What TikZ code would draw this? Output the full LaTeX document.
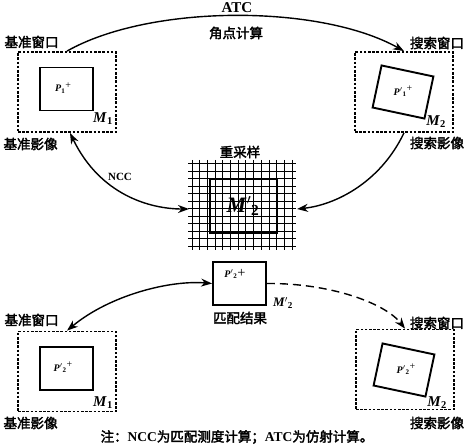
\documentclass[tikz,border=0pt]{standalone}
\usepackage{amsmath,amssymb}
\usepackage{fontspec}
\setmainfont{Liberation Serif}
\newfontfamily\cjk{Noto Sans CJK SC}[AutoFakeBold=2.4]
\usepackage{tikz}
\usetikzlibrary{arrows.meta}
\tikzset{
  win/.style={draw, line width=1.8pt, dash pattern=on 2.6pt off 1.6pt, minimum width=98pt, minimum height=80pt, inner sep=0pt},
  patch/.style={draw, line width=1.9pt, minimum width=53pt, minimum height=43pt, inner sep=0pt},
  cn/.style={font=\cjk\bfseries\fontsize{13.5}{15}\selectfont},
  conn/.style={line width=1.4pt, -{Stealth[length=11pt,width=8pt]}},
  tip2/.style={{Stealth[length=11pt,width=8pt]}-{Stealth[length=11pt,width=8pt]}}
}
% bold italic symbol with subscript, optional prime
\newcommand*{\bsym}[3][]{\textbf{\textit{#2}}\textbf{#1}\textsubscript{\textbf{#3}}}
\begin{document}
\begin{tikzpicture}[x=1pt, y=1pt]
\useasboundingbox (0,0) rectangle (474,445);
% upper row: reference and search windows
\node[win] (basewin) at (67,353) {};
\node[patch] (basepatch) at (66.5,356) {};
\node[font=\fontsize{10}{12}\selectfont] (basep) at (63,357) {\bsym{P}{1}\raisebox{3pt}{+}};
\node[font=\fontsize{15}{17}\selectfont] (basem) at (103,326) {\bsym{M}{1}};
\node[cn, anchor=west] (basewinlbl) at (1,403) {基准窗口};
\node[cn, anchor=west] (baseimglbl) at (0,301) {基准影像};
\node[win] (searchwin) at (404,353) {};
\node[patch, rotate=-12] (searchpatch) at (403,353) {};
\node[font=\fontsize{10}{12}\selectfont] (searchp) at (403,354) {\bsym[$'$]{P}{1}\raisebox{4pt}{+}};
\node[font=\fontsize{15}{17}\selectfont] (searchm) at (436,323) {\bsym{M}{2}};
\node[cn] (searchwinlbl) at (437,402) {搜索窗口};
\node[cn] (searchimglbl) at (437,302) {搜索影像};
\node[font=\bfseries\fontsize{15}{17}\selectfont] (atc) at (237,437) {ATC};
\node[cn] (corner) at (236,412) {角点计算};
% resampling grid
\foreach \i in {0,...,13}
  \draw[line width=1pt] (192+7.7*\i,285) -- (192+7.7*\i,195);
\foreach \j in {0,...,11}
  \draw[line width=1pt] (188,281-7.5*\j) -- (296,281-7.5*\j);
\node[draw, line width=2.6pt, minimum width=67pt, minimum height=54pt, inner sep=0pt] (resbox) at (243.5,239) {};
\node[font=\fontsize{22}{24}\selectfont] (resm) at (243,239) {\bsym[$'$]{M}{2}};
\node[cn] (resample) at (240,293) {重采样};
\coordinate (gridl) at (189,236);
\coordinate (gridr) at (297,236);
\node[font=\bfseries\fontsize{11}{13}\selectfont] (ncc) at (120,268) {NCC};
% matching result
\node[patch] (match) at (239.5,161.5) {};
\node[font=\fontsize{10}{12}\selectfont] (matchp) at (235,171) {\bsym[$'$]{P}{2}\raisebox{0pt}{\Large+}};
\node[font=\fontsize{13}{15}\selectfont] (matchm) at (283,142) {\bsym[$'$]{M}{2}};
\node[cn] (matchlbl) at (240,127) {匹配结果};
% lower row
\node[win] (basewin2) at (67,73.5) {};
\node[patch] (basepatch2) at (66.5,76.5) {};
\node[font=\fontsize{10}{12}\selectfont] (basep2) at (63,78) {\bsym[$'$]{P}{2}\raisebox{4pt}{+}};
\node[font=\fontsize{15}{17}\selectfont] (basem2) at (103,42) {\bsym{M}{1}};
\node[cn, anchor=west] (basewinlbl2) at (1,125) {基准窗口};
\node[cn, anchor=west] (baseimglbl2) at (0,22) {基准影像};
\node[win] (searchwin2) at (405,75.5) {};
\node[patch, rotate=-12] (searchpatch2) at (404,75) {};
\node[font=\fontsize{10}{12}\selectfont] (searchp2) at (406,76) {\bsym[$'$]{P}{2}\raisebox{4pt}{+}};
\node[font=\fontsize{15}{17}\selectfont] (searchm2) at (437,42) {\bsym{M}{2}};
\node[cn] (searchwinlbl2) at (437,122) {搜索窗口};
\node[cn] (searchimglbl2) at (437,22) {搜索影像};
\node[cn] (note) at (237,8) {注：{\rmfamily\bfseries NCC}为匹配测度计算；{\rmfamily\bfseries ATC}为仿射计算。};
% connectors
\draw[conn] (basewin.north) .. controls (150,441) and (320,441) .. (searchwin.north);
\draw[conn, tip2] ([xshift=3pt]basewin.south) .. controls (100,250) and (150,236) .. (gridl);
\draw[conn] (searchwin.south) .. controls (380,262) and (335,240) .. (gridr);
\draw[conn, tip2] (basewin2.north) .. controls (110,150) and (170,165) .. (match.west);
\draw[conn, dash pattern=on 8pt off 5pt] (match.east) .. controls (330,162) and (385,142) .. (searchwin2.north);
\end{tikzpicture}
\end{document}
